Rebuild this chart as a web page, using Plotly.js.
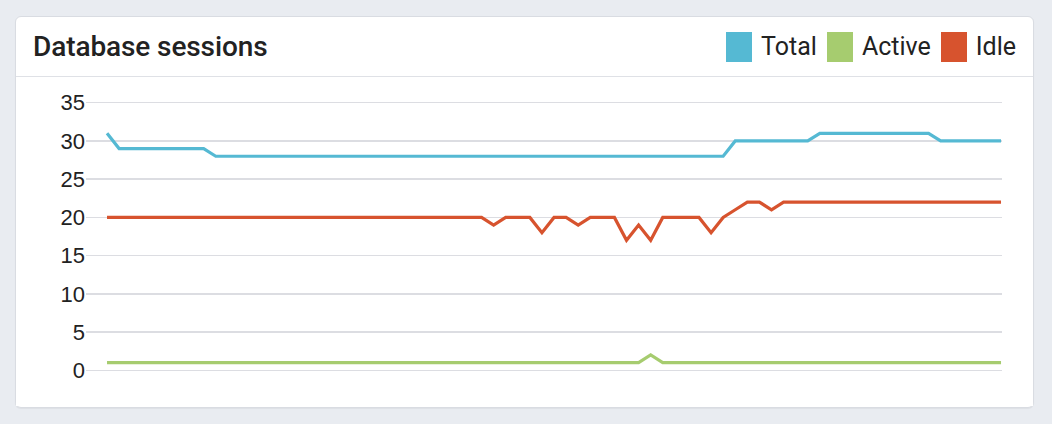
<!DOCTYPE html>
<html>
<head>
<meta charset="utf-8">
<script src="https://cdn.plot.ly/plotly-3.0.1.min.js"></script>
<style>
  html, body { margin: 0; padding: 0; background: #e9ecf1; width: 1052px; height: 424px; overflow: hidden; }
  .card {
    position: absolute; left: 15px; top: 16px; width: 1017px; height: 390px;
    background: #fff; border: 1px solid #d9dce2; border-radius: 6px;
    box-shadow: 0 1px 1px rgba(0, 0, 0, 0.05);
  }
  .card-head {
    height: 60px; border-bottom: 1px solid #dfe1e6;
    display: flex; align-items: center; justify-content: space-between;
    padding: 0 17px 0 17px; box-sizing: border-box;
  }
  .card-title { font-family: Roboto, sans-serif; font-weight: 500; font-size: 28px; color: #222; letter-spacing: -0.1px; }
  .legend { display: flex; align-items: center; font-family: Roboto, sans-serif; font-size: 25px; color: #222; }
  .legend .sw { display: inline-block; width: 26px; height: 30px; margin: 0 9px 0 10px; }
  #chart { width: 1017px; height: 329px; }
</style>
</head>
<body>
<div class="card">
  <div class="card-head">
    <div class="card-title">Database sessions</div>
    <div class="legend" id="legend"></div>
  </div>
  <div id="chart"></div>
</div>
<script>
const seriesNames = ["Total", "Active", "Idle"];
const seriesColors = ["#55b9d3", "#a6cc6f", "#d7532e"];
const yTicks = [0, 5, 10, 15, 20, 25, 30, 35];

const total = [
  31, 29, 29, 29, 29, 29, 29, 29, 29, 28, 28, 28, 28, 28, 28,
  28, 28, 28, 28, 28, 28, 28, 28, 28, 28, 28, 28, 28, 28, 28,
  28, 28, 28, 28, 28, 28, 28, 28, 28, 28, 28, 28, 28, 28, 28,
  28, 28, 28, 28, 28, 28, 28, 30, 30, 30, 30, 30, 30, 30, 31,
  31, 31, 31, 31, 31, 31, 31, 31, 31, 30, 30, 30, 30, 30, 30,
];
const active = [
  1, 1, 1, 1, 1, 1, 1, 1, 1, 1, 1, 1, 1, 1, 1,
  1, 1, 1, 1, 1, 1, 1, 1, 1, 1, 1, 1, 1, 1, 1,
  1, 1, 1, 1, 1, 1, 1, 1, 1, 1, 1, 1, 1, 1, 1,
  2, 1, 1, 1, 1, 1, 1, 1, 1, 1, 1, 1, 1, 1, 1,
  1, 1, 1, 1, 1, 1, 1, 1, 1, 1, 1, 1, 1, 1, 1,
];
const idle = [
  20, 20, 20, 20, 20, 20, 20, 20, 20, 20, 20, 20, 20, 20, 20,
  20, 20, 20, 20, 20, 20, 20, 20, 20, 20, 20, 20, 20, 20, 20,
  20, 20, 19, 20, 20, 20, 18, 20, 20, 19, 20, 20, 20, 17, 19,
  17, 20, 20, 20, 20, 18, 20, 21, 22, 22, 21, 22, 22, 22, 22,
  22, 22, 22, 22, 22, 22, 22, 22, 22, 22, 22, 22, 22, 22, 22,
];

const seriesValues = [total, active, idle];

// legend in the card header
const legendEl = document.getElementById("legend");
seriesNames.forEach((name, i) => {
  const sw = document.createElement("span");
  sw.className = "sw";
  sw.style.background = seriesColors[i];
  legendEl.appendChild(sw);
  legendEl.appendChild(document.createTextNode(name));
});

const xs = total.map((_, i) => i);
const traces = seriesValues.map((vals, i) => ({
  x: xs,
  y: vals,
  name: seriesNames[i],
  type: "scatter",
  mode: "lines",
  line: { color: seriesColors[i], width: 3.2 },
  hoverinfo: "skip",
}));

Plotly.newPlot(
  "chart",
  traces,
  {
    width: 1017,
    height: 329,
    margin: { l: 70, r: 31, t: 19, b: 25 },
    paper_bgcolor: "#ffffff",
    plot_bgcolor: "#ffffff",
    showlegend: false,
    font: { family: "Liberation Sans, Arial, sans-serif", size: 22, color: "#222" },
    xaxis: {
      range: [-1.74, 74.08],
      showgrid: false,
      zeroline: false,
      showticklabels: false,
      fixedrange: true,
    },
    yaxis: {
      range: [-1.4, 35.88],
      tickvals: yTicks,
      ticktext: yTicks.map(String),
      showgrid: true,
      gridcolor: "#dcdde2",
      gridwidth: 1.4,
      zeroline: false,
      showline: false,
      ticks: "",
      ticklabelstandoff: 0,
      fixedrange: true,
    },
  },
  { displayModeBar: false, staticPlot: true },
);
</script>
</body>
</html>
